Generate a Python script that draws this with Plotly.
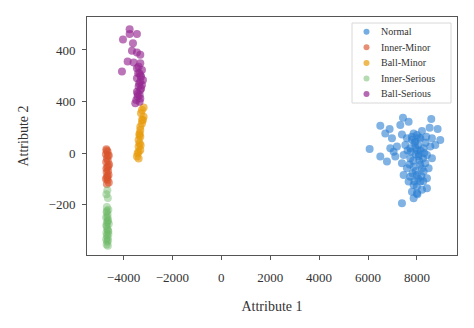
import plotly.graph_objects as go

# ---- data ----
normal_x = [7430, 7661, 8588, 6503, 6884, 7321, 8520, 8847, 6707, 6980, 7389, 7866, 8207, 8384,
            8615, 8956, 6067, 6503, 6775, 7048, 7184, 7525, 7730, 7934, 8138, 8002, 8275, 8547,
            8752, 8411, 8615, 8070, 7730, 7457, 7389, 7593, 7866, 8138, 8343, 8479, 7457, 7730,
            8002, 8275, 7661, 7866, 8138, 8411, 7798, 8002, 8207, 8411, 7866, 7389, 6912, 7116,
            7593, 7798, 8002, 7900, 8050, 8150, 7950, 8100, 8200, 7950, 8050, 7850, 8250, 7700,
            8000, 8300, 7800, 8100, 7750, 8180, 7900, 8020, 7940, 8350, 7620, 8260, 7820, 8080]
normal_y = [137, 121, 132, 106, 93, 109, 98, 93, 76, 57, 72, 76, 85, 63,
            57, 50, 16, -14, -33, 5, 25, 31, 18, 44, 57, 12, 18, 25,
            31, -8, -20, -14, -20, -8, -40, -59, -53, -46, -40, -59, -85, -92,
            -85, -72, -111, -124, -111, -98, -150, -156, -143, -137, -176, -195, 18, -14,
            57, 63, 70, 40, 30, 10, -5, -30, -60, -70, -100, -30, -20, -45,
            -130, 0, 50, 60, 5, -90, -110, -160, 20, 40, 10, -110, -80, -5]

inner_minor_x = [-4700, -4650, -4720, -4600, -4680, -4640, -4710, -4590, -4660, -4700,
                 -4630, -4690, -4610, -4670, -4720, -4650, -4600, -4680, -4640, -4690, -4620, -4660]
inner_minor_y = [15, 5, -5, -10, -20, -30, -35, -45, -55, -60,
                 -70, -75, -85, -95, -100, -105, -115, -120, -10, 10, -50, -90]

ball_minor_x = [-3177, -3245, -3177, -3245, -3313, -3341, -3382, -3382, -3423, -3382,
                -3313, -3313, -3341, -3313, -3450, -3245, -3286, -3204, -3382, -3300, -3350]
ball_minor_y = [177, 167, 141, 128, 102, 76, 50, 25, -1, -21,
                89, 63, 38, 12, -14, 115, 154, 128, 5, 30, 70]

inner_serious_x = [-4660, -4700, -4640, -4680, -4620, -4690, -4650, -4710, -4630, -4670,
                   -4600, -4690, -4660, -4640, -4700, -4620, -4680, -4650, -4710, -4630,
                   -4670, -4690, -4640, -4660, -4700, -4620, -4680, -4650]
inner_serious_y = [-145, -160, -175, -210, -220, -230, -240, -250, -260, -270,
                   -275, -285, -295, -300, -310, -315, -320, -330, -335, -340,
                   -345, -355, -360, -250, -280, -305, -225, -265]

ball_serious_x = [-3750, -3750, -3450, -4022, -3613, -3654, -3450, -3313, -3831, -3586,
                  -3313, -4063, -3450, -3341, -3450, -3313, -3382, -3450, -3341, -3477,
                  -3313, -3518, -3382, -3245, -3286, -3245, -3313, -3423, -3341, -3204,
                  -3400, -3300, -3360, -3280, -3420]
ball_serious_y = [480, 462, 462, 441, 426, 397, 390, 381, 355, 351,
                  348, 316, 329, 309, 290, 277, 258, 238, 225, 206,
                  212, 193, 335, 322, 296, 264, 245, 219, 199, 283,
                  310, 300, 270, 250, 230]

series_names = ["Normal", "Inner-Minor", "Ball-Minor", "Inner-Serious", "Ball-Serious"]
series_x = [normal_x, inner_minor_x, ball_minor_x, inner_serious_x, ball_serious_x]
series_y = [normal_y, inner_minor_y, ball_minor_y, inner_serious_y, ball_serious_y]
colors = ["#2b7fd2", "#d9532c", "#e89b0a", "#6cb866", "#962a92"]
opacities = [0.6, 0.6, 0.65, 0.45, 0.65]

x_tickvals = [-4000, -2000, 0, 2000, 4000, 6000, 8000]
x_ticktext = ["\u22124000", "\u22122000", "0", "2000", "4000", "6000", "8000"]
y_tickvals = [-200, 0, 200, 400]
y_ticktext = ["\u2212200", "0", "400", "400"]

FONT = "Liberation Serif"
TXT = "#333333"

fig = go.Figure()
for name, xs, ys, c, op in zip(series_names, series_x, series_y, colors, opacities):
    fig.add_trace(go.Scatter(
        x=xs, y=ys, mode="markers", name=name, showlegend=False,
        marker=dict(size=8, color=c, opacity=op, line=dict(width=0)),
    ))

# ---- compact legend box (paper coordinates) ----
# plot area: 370 px wide, 238 px tall
leg_x0, leg_x1 = (352 - 87) / 370, (451 - 87) / 370
leg_y1, leg_y0 = (255 - 23) / 238, (255 - 103) / 238
fig.add_shape(type="rect", xref="paper", yref="paper",
              x0=leg_x0, x1=leg_x1, y0=leg_y0, y1=leg_y1,
              line=dict(color="#d8d8d8", width=1), fillcolor="white", layer="above")
item_px = [31.7, 47.3, 63.0, 78.5, 94.0]
mk_x = (366.5 - 87) / 370
tx_x = (379 - 87) / 370
for name, c, op, py in zip(series_names, colors, opacities, item_px):
    yy = (255 - py) / 238
    fig.add_shape(type="circle", xref="paper", yref="paper",
                  xsizemode="pixel", ysizemode="pixel",
                  xanchor=mk_x, yanchor=yy, x0=-3, x1=3, y0=-3, y1=3,
                  fillcolor=c, opacity=min(op + 0.05, 0.7), line=dict(width=0), layer="above")
    fig.add_annotation(x=tx_x, y=yy, xref="paper", yref="paper",
                       text=name, showarrow=False, xanchor="left", yanchor="middle",
                       font=dict(family=FONT, size=10, color=TXT))

fig.update_layout(
    width=474, height=328,
    margin=dict(l=87, r=17, t=17, b=73),
    paper_bgcolor="white", plot_bgcolor="white",
    font=dict(family=FONT, color=TXT, size=12),
    showlegend=False,
)
fig.update_xaxes(
    range=[-5493, 9640], tickvals=x_tickvals, ticktext=x_ticktext,
    showgrid=False, zeroline=False,
    showline=True, mirror=True, linecolor="#555555", linewidth=1,
    ticks="outside", ticklen=4, tickcolor="#555555", ticklabelstandoff=6,
    tickfont=dict(family=FONT, size=13, color=TXT),
    title=dict(text="Attribute 1", font=dict(family=FONT, size=14, color=TXT), standoff=17),
)
fig.update_yaxes(
    range=[-396, 528], tickvals=y_tickvals, ticktext=y_ticktext,
    showgrid=False, zeroline=False,
    showline=True, mirror=True, linecolor="#555555", linewidth=1,
    ticks="outside", ticklen=4, tickcolor="#555555", ticklabelstandoff=4,
    tickfont=dict(family=FONT, size=13, color=TXT),
    title=dict(text="Attribute 2", font=dict(family=FONT, size=14, color=TXT), standoff=16),
)

fig.write_html("out.html")
